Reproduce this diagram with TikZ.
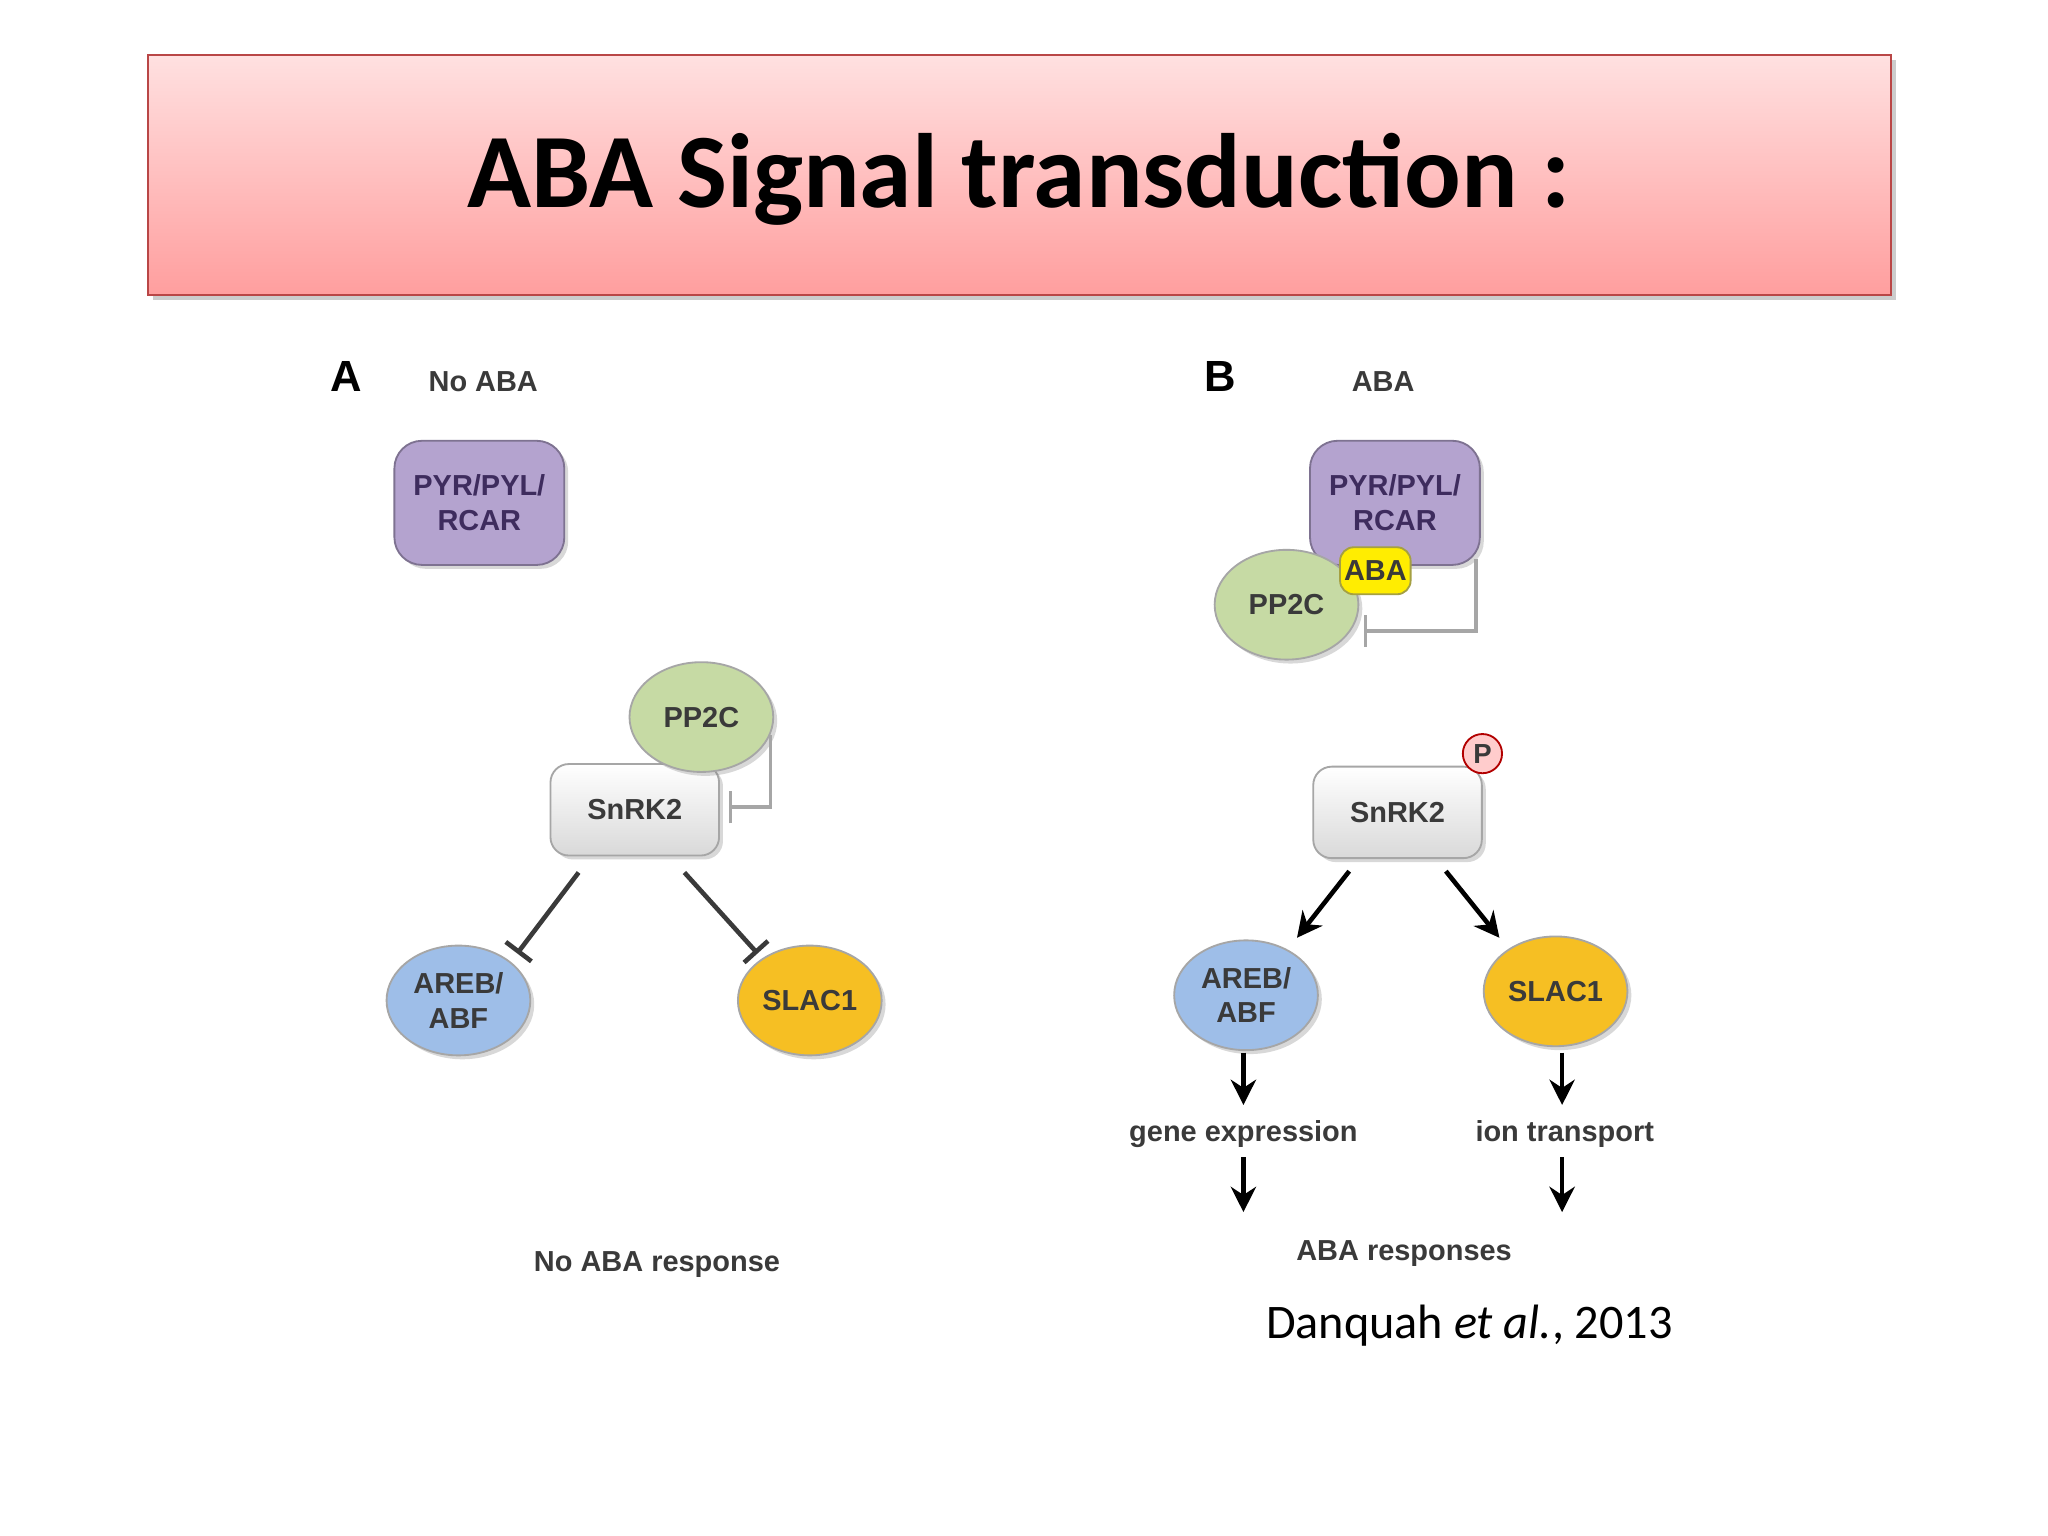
\documentclass[tikz,border=0pt]{standalone}
\usepackage{fontspec}
\setmainfont{Liberation Sans}
\newfontfamily\calib{Carlito}
\usetikzlibrary{arrows.meta,shadows,shapes.geometric}
\definecolor{pyr}{HTML}{B4A3CF}
\definecolor{pyrt}{HTML}{3E2C5E}
\definecolor{ppc}{HTML}{C6DAA4}
\definecolor{areb}{HTML}{9EBEE8}
\definecolor{slac}{HTML}{F6BF23}
\definecolor{lab}{HTML}{3A3A3A}
\begin{document}
\begin{tikzpicture}[x=0.01cm,y=-0.01cm,
  lbl/.style={font=\bfseries\fontsize{6.3}{7.5}\selectfont,text=lab,align=center},
  shd/.style={drop shadow={opacity=0.3,shadow xshift=0.03cm,shadow yshift=-0.03cm}},
  pyrbox/.style={draw=pyr!70!black,fill=pyr,rounded corners=6,inner sep=0pt,minimum width=1.3cm,minimum height=0.95cm,lbl,text=pyrt,shd},
  snbox/.style={draw=gray!70,top color=white,bottom color=gray!30,rounded corners=4,inner sep=0pt,minimum width=1.29cm,minimum height=0.7cm,lbl,shd},
  ell/.style={ellipse,draw=gray!70,inner sep=0pt,minimum width=1.1cm,minimum height=0.84cm,lbl,shd},
  inh/.style={draw=lab,line width=1pt,-{Bar[width=7pt]}},
  act/.style={draw=black,line width=1pt,-{Stealth[length=5.5pt,width=5.5pt]}}]
\useasboundingbox (0,0) rectangle (1568,1176);
\fill[white] (0,0) rectangle (1568,1176);
% title
\fill[gray!40] (117,46) rectangle (1452,230);
\shade[top color=red!12,bottom color=red!38,draw=red!45!gray] (113,42) rectangle (1448,226);
\node (title) at (780,137) {\calib\bfseries\fontsize{23}{26}\selectfont ABA Signal transduction :};
% Panel A
\node[font=\bfseries\fontsize{9.5}{11}\selectfont] (la) at (265,288) {A};
\node[lbl] (na) at (370,292) {No ABA};
\node[pyrbox] (pyrA) at (367,385) {PYR/PYL/\\RCAR};
\node[snbox] (snA) at (486,620) {SnRK2};
\node[ell,fill=ppc] (ppA) at (537,549) {PP2C};
\coordinate (a1) at (590,563);
\draw[inh,draw=gray!70,line width=0.8pt] (a1) -- (590,618) -- (558,618);
\node[ell,fill=areb] (arA) at (351,766) {AREB/\\ABF};
\node[ell,fill=slac] (slA) at (620,766) {SLAC1};
\coordinate (s1) at (443,668);\coordinate (s2) at (524,668);
\coordinate (t1) at (396,730);\coordinate (t2) at (580,730);
\draw[inh] (s1) -- (t1);
\draw[inh] (s2) -- (t2);
\node[lbl] (nr) at (503,968) {No ABA response};
% Panel B
\node[font=\bfseries\fontsize{9.5}{11}\selectfont] (lb) at (934,288) {B};
\node[lbl] (ab) at (1059,292) {ABA};
\node[pyrbox] (pyrB) at (1068,385) {PYR/PYL/\\RCAR};
\node[ell,fill=ppc] (ppB) at (985,463) {PP2C};
\node[draw=yellow!60!black,fill=yellow!95!orange,rounded corners=3,inner sep=0pt,minimum width=0.54cm,minimum height=0.36cm,lbl] (abaB) at (1053,437) {ABA};
\coordinate (b1) at (1130,428);
\draw[inh,draw=gray!70,line width=0.8pt] (b1) -- (1130,483) -- (1044,483);
\node[snbox] (snB) at (1070,622) {SnRK2};
\node[circle,draw=red!70!black,fill=red!20,minimum size=0.3cm,inner sep=0pt,lbl,font=\bfseries\fontsize{6}{7}\selectfont] (pB) at (1135,577) {P};
\node[ell,fill=areb] (arB) at (954,762) {AREB/\\ABF};
\node[ell,fill=slac] (slB) at (1191,759) {SLAC1};
\coordinate (u1) at (1033,667);\coordinate (u2) at (1107,667);
\coordinate (v1) at (993,718);\coordinate (v2) at (1148,718);
\draw[act] (u1) -- (v1);
\draw[act] (u2) -- (v2);
\node[lbl] (ge) at (952,868) {gene expression};
\node[lbl] (it) at (1198,868) {ion transport};
\node[lbl] (ar) at (1075,960) {ABA responses};
\coordinate (g1) at (952,806);\coordinate (g2) at (952,846);
\coordinate (i1) at (1196,806);\coordinate (i2) at (1196,846);
\coordinate (g3) at (952,886);\coordinate (g4) at (952,928);
\coordinate (i3) at (1196,886);\coordinate (i4) at (1196,928);
\draw[act] (g1) -- (g2);\draw[act] (i1) -- (i2);
\draw[act] (g3) -- (g4);\draw[act] (i3) -- (i4);
\node (cit) at (1125,1015) {\calib\fontsize{10.5}{12}\selectfont Danquah \textit{et al.}, 2013};
\end{tikzpicture}
\end{document}
